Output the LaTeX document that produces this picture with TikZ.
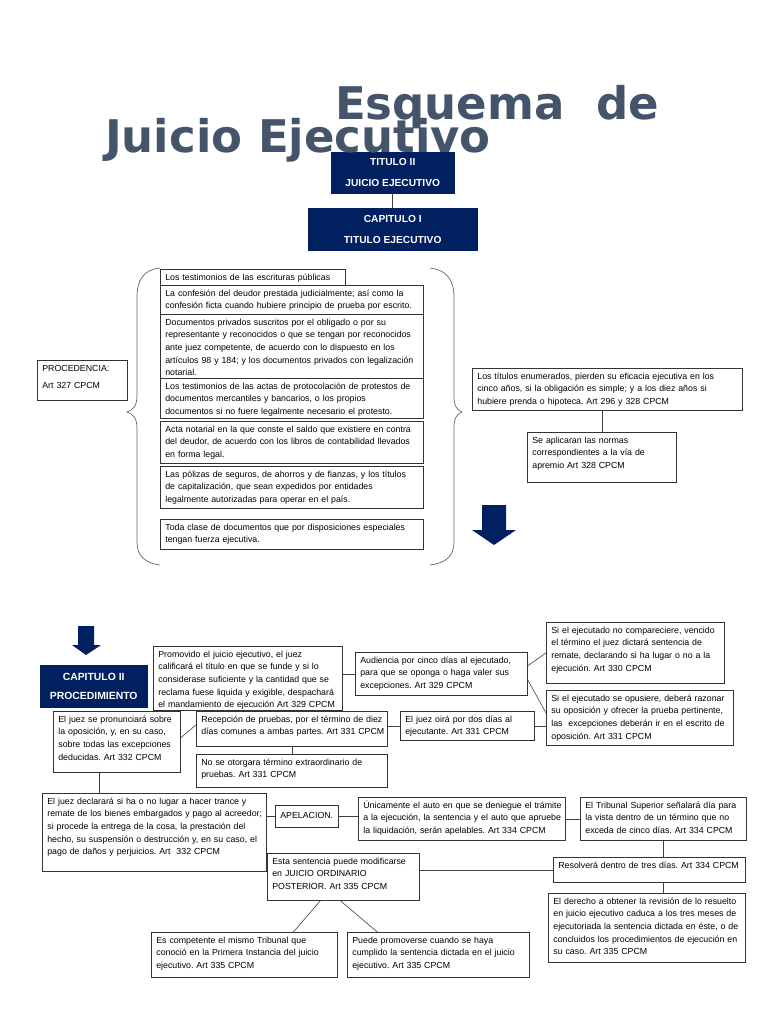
\documentclass[tikz,border=0pt]{standalone}
\usepackage{fontspec}
\setmainfont{Liberation Sans}
\newfontfamily\titulofont{DejaVu Sans}
\definecolor{azulcap}{HTML}{002060}
\definecolor{grisazul}{HTML}{44546A}
\frenchspacing

\begin{document}
\begin{tikzpicture}[x=1pt, y=-1pt,
  caja/.style={draw=black!80, line width=0.7pt, anchor=north west, align=left, inner xsep=5pt, inner ysep=0pt, text height=11pt, font=\fontsize{8.8}{12.6}\selectfont, execute at begin node={\rightskip=0pt plus 1fil minus 40pt}},
  capitulo/.style={fill=azulcap, draw=azulcap, anchor=north west, align=center, text=white, inner sep=0pt, font=\bfseries\fontsize{10.2}{21}\selectfont},
  encabezado/.style={anchor=base west, inner sep=0pt, text=grisazul, font=\titulofont\bfseries\fontsize{45}{45}\selectfont},
  linea/.style={draw=black!75, line width=0.6pt},
  llave/.style={draw=black!60, line width=0.7pt}]
			\useasboundingbox (0,0) rectangle (768,1024);

			% titulo y capitulo I
			\node[capitulo, minimum width=123pt, minimum height=41pt] (tituloII) at (331,152) {TITULO II\\JUICIO EJECUTIVO};
			\node[capitulo, minimum width=169pt, minimum height=42pt] (capI) at (308,208) {CAPITULO I\\TITULO EJECUTIVO};
			\draw[linea] (tituloII.south) -- (capI.north);

			\node[encabezado] (esquema) at (335,120) {Esquema~~de};
			\node[encabezado] (juicio) at (105,153) {Juicio Ejecutivo};

			% procedencia
			\node[caja, text width=80pt, text depth=29pt] (procedencia) at (37,360) {PROCEDENCIA:\\[4.4pt]Art 327 CPCM};
			\node[caja, text width=175pt, text depth=5pt] (lista1) at (160,269) {Los testimonios de las escrituras públicas};
			\node[caja, text width=253pt, text depth=18pt] (lista2) at (160,285) {La confesión del deudor prestada judicialmente; así como la\\confesión ficta cuando hubiere principio de prueba por escrito.};
			\node[caja, text width=253pt, text depth=53pt] (lista3) at (160,314) {Documentos privados suscritos por el obligado o por su\\representante y reconocidos o que se tengan por reconocidos\\ante juez competente, de acuerdo con lo dispuesto en los\\artículos 98 y 184; y los documentos privados con legalización\\notarial.};
			\node[caja, text width=253pt, text depth=29pt] (lista4) at (160,378) {Los testimonios de las actas de protocolación de protestos de\\documentos mercantiles y bancarios, o los propios\\documentos si no fuere legalmente necesario el protesto.};
			\node[caja, text width=253pt, text depth=31pt] (lista5) at (160,421) {Acta notarial en la que conste el saldo que existiere en contra\\del deudor, de acuerdo con los libros de contabilidad llevados\\en forma legal.};
			\node[caja, text width=253pt, text depth=31pt] (lista6) at (160,466) {Las pólizas de seguros, de ahorros y de fianzas, y los títulos\\de capitalización, que sean expedidos por entidades\\legalmente autorizadas para operar en el país.};
			\node[caja, text width=253pt, text depth=19pt] (lista7) at (160,519) {Toda clase de documentos que por disposiciones especiales\\tengan fuerza ejecutiva.};

			\draw[llave] (160,268) .. controls (143,270) and (137,280) .. (137,298) -- (137,396) .. controls (137,406) and (133,410) .. (127,412) .. controls (133,414) and (137,418) .. (137,428) -- (137,542) .. controls (137,556) and (145,563) .. (160,565);
			\draw[llave] (430,268) .. controls (447,270) and (454,280) .. (454,298) -- (454,396) .. controls (454,406) and (457,410) .. (462,412) .. controls (457,414) and (454,418) .. (454,428) -- (454,542) .. controls (454,556) and (446,563) .. (430,565);

			\node[caja, text width=260pt, text depth=31pt] (enumerados) at (472,368) {Los títulos enumerados, pierden su eficacia ejecutiva en los\\cinco años, si la obligación es simple; y a los diez años si\\hubiere prenda o hipoteca. Art 296 y 328 CPCM};
			\node[caja, text width=139pt, text depth=39pt] (aplicaran) at (527,432) {Se aplicaran las normas\\correspondientes a la vía de\\apremio Art 328 CPCM};
			\draw[linea] (aplicaran.north |- enumerados.south) -- (aplicaran.north);

			\fill[azulcap] (482,505) -- (506,505) -- (506,530) -- (516,530) -- (494,545) -- (472,530) -- (482,530) -- cycle;

			% capitulo II
			\fill[azulcap] (78,626) -- (94,626) -- (94,645) -- (101,645) -- (86,655) -- (72,645) -- (78,645) -- cycle;
			\node[capitulo, minimum width=107pt, minimum height=42pt, font=\bfseries\fontsize{10.4}{19}\selectfont] (capII) at (40,665) {CAPITULO II\\PROCEDIMIENTO};

			\node[caja, text width=179pt, text depth=53pt] (promovido) at (153,646) {Promovido el juicio ejecutivo, el juez\\calificará el título en que se funde y si lo\\considerase suficiente y la cantidad que se\\reclama fuese liquida y exigible, despachará\\el mandamiento de ejecución Art 329 CPCM};
			\node[caja, text width=162pt, text depth=32pt] (audiencia) at (355,652) {Audiencia por cinco días al ejecutado,\\para que se oponga o haga valer sus\\excepciones. Art 329 CPCM};
			\node[caja, text width=168pt, text depth=50pt] (nocomp) at (546,622) {Si el ejecutado no compareciere, vencido\\el término el juez dictará sentencia de\\remate, declarando si ha lugar o no a la\\ejecución. Art 330 CPCM};
			\node[caja, text width=177pt, text depth=44pt] (opusiere) at (546,690) {Si el ejecutado se opusiere, deberá razonar\\su oposición y ofrecer la prueba pertinente,\\las~ excepciones deberán ir en el escrito de\\oposición. Art 331 CPCM};
			\node[caja, text width=124pt, text depth=18pt] (oira) at (400,711) {El juez oirá por dos días al\\ejecutante. Art 331 CPCM};
			\node[caja, text width=181pt, text depth=24pt] (recepcion) at (196,711) {Recepción de pruebas, por el término de diez\\días comunes a ambas partes. Art 331 CPCM};
			\node[caja, text width=181pt, text depth=22pt] (otorgara) at (196,754) {No se otorgara término extraordinario de\\pruebas. Art 331 CPCM};
			\node[caja, text width=117pt, text depth=50pt] (pronuncia) at (53,711) {El juez se pronunciará sobre\\la oposición, y, en su caso,\\sobre todas las excepciones\\deducidas. Art 332 CPCM};

			\draw[linea] (promovido.east |- audiencia.west) -- (audiencia.west);
			\draw[linea] ([yshift=8pt]audiencia.east) -- (nocomp.west);
			\draw[linea] ([yshift=-6pt]audiencia.east) -- ([yshift=5pt]opusiere.west);
			\draw[linea] (recepcion.east |- oira.west) -- (oira.west);
			\draw[linea] (oira.east) -- (oira.east -| opusiere.west);
			\draw[linea] (recepcion.south) -- (otorgara.north);
			\draw[linea] ([yshift=4pt]pronuncia.east) -- ([yshift=4pt]recepcion.west);

			% sentencia y apelacion
			\node[caja, text width=214pt, text depth=67pt] (declara) at (42,793) {El juez declarará si ha o no lugar a hacer trance y\\remate de los bienes embargados y pago al acreedor;\\si procede la entrega de la cosa, la prestación del\\hecho, su suspensión o destrucción y, en su caso, el\\pago de daños y perjuicios. Art~ 332 CPCM};
			\node[caja, align=center, text width=53pt, text height=13pt, text depth=9pt] (apelacion) at (275,805) {APELACION.};
			\node[caja, text width=197pt, text depth=32pt] (unicamente) at (358,797) {Únicamente el auto en que se deniegue el trámite\\a la ejecución, la sentencia y el auto que apruebe\\la liquidación, serán apelables. Art 334 CPCM};
			\node[caja, text width=156pt, text depth=32pt] (tribunal) at (580,797) {El Tribunal Superior señalará día para\\la vista dentro de un término que no\\exceda de cinco días. Art 334 CPCM};
			\node[caja, text width=182pt, text depth=14pt] (resolvera) at (553,857) {Resolverá dentro de tres días. Art 334 CPCM};
			\node[caja, text width=187pt, text depth=58pt] (derecho) at (548,893) {El derecho a obtener la revisión de lo resuelto\\en juicio ejecutivo caduca a los tres meses de\\ejecutoriada la sentencia dictada en éste, o de\\concluidos los procedimientos de ejecución en\\su caso. Art 335 CPCM};
			\node[caja, text width=142pt, text depth=36pt] (sentencia) at (267,853) {Esta sentencia puede modificarse\\en JUICIO ORDINARIO\\POSTERIOR. Art 335 CPCM};
			\node[caja, text width=176pt, text depth=34pt] (competente) at (151,932) {Es competente el mismo Tribunal que\\conoció en la Primera Instancia del juicio\\ejecutivo. Art 335 CPCM};
			\node[caja, text width=172pt, text depth=34pt] (promover) at (347,932) {Puede promoverse cuando se haya\\cumplido la sentencia dictada en el juicio\\ejecutivo. Art 335 CPCM};

			\draw[linea] ([xshift=-18pt]pronuncia.south) -- ([xshift=-18pt]pronuncia.south |- declara.north);
			\draw[linea] (declara.east |- apelacion.west) -- (apelacion.west);
			\draw[linea] (apelacion.east) -- (apelacion.east -| unicamente.west);
			\draw[linea] (unicamente.east) -- (tribunal.west);
			\draw[linea] (tribunal.south) -- (tribunal.south |- resolvera.north);
			\draw[linea] (sentencia.east |- resolvera.west) -- (resolvera.west);
			\draw[linea] (tribunal.south |- resolvera.south) -- (tribunal.south |- derecho.north);
			\draw[linea] ([xshift=-23pt]sentencia.south) -- ([xshift=49pt]competente.north);
			\draw[linea] ([xshift=-3pt]sentencia.south) -- ([xshift=-61pt]promover.north);
		\end{tikzpicture}
\end{document}
